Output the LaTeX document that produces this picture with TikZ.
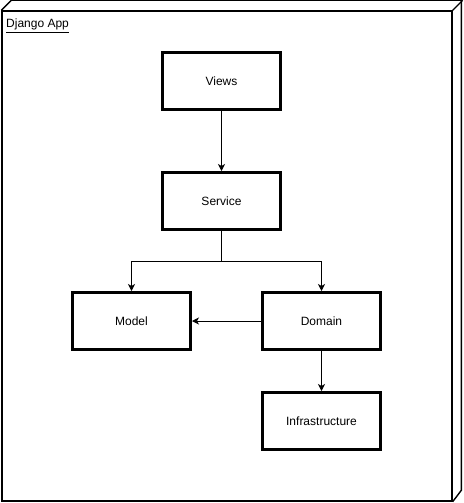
\documentclass[tikz,border=0pt]{standalone}
\usepackage{fontspec}
\setmainfont{Liberation Sans}
\usetikzlibrary{arrows.meta}

\begin{document}
\begin{tikzpicture}[
  x=1pt, y=-1pt,
  font=\fontsize{12}{14}\selectfont,
  frame/.style={draw, line width=1.4pt, minimum width=450pt, minimum height=490pt, inner sep=0pt},
  comp/.style={draw, line width=3pt, fill=white, minimum width=118pt, minimum height=57pt, inner sep=0pt},
  arr/.style={-{Stealth[length=7pt, width=7pt, inset=2pt]}, line width=0.8pt},
]
  \useasboundingbox (0,0) rectangle (463,503);

  % ----- Outer package (3D node) -----
  \node[frame] (app) at (227,256) {};
  \draw[line width=1.4pt, line join=miter]
    (app.north west) -- ++(10,-10) -- ++(450,0) -- ++(0,490) -- (app.south east);
  \draw[line width=1.4pt] (app.north east) -- ++(10,-10);
  \node[anchor=base west, inner sep=0pt] (title) at (6,28) {\underline{Django App}};

  % ----- Layers -----
  \node[comp] (views)   at (221.5,81)  {Views};
  \node[comp] (service) at (221.5,201) {Service};
  \node[comp] (model)   at (131.5,321) {Model};
  \node[comp] (domain)  at (321.5,321) {Domain};
  \node[comp] (infra)   at (321.5,421) {Infrastructure};

  % Views -> Service
  \draw[arr] (views) -- (service);

  % Service splits to Model and Domain
  \coordinate (split) at (221.5,261);
  \draw[line width=0.8pt] (service.south) -- (split);
  \draw[arr] (split) -| (model.north);
  \draw[arr] (split) -| (domain.north);

  % Domain -> Model, Domain -> Infrastructure
  \draw[arr] (domain) -- (model);
  \draw[arr] (domain) -- (infra);
\end{tikzpicture}
\end{document}
